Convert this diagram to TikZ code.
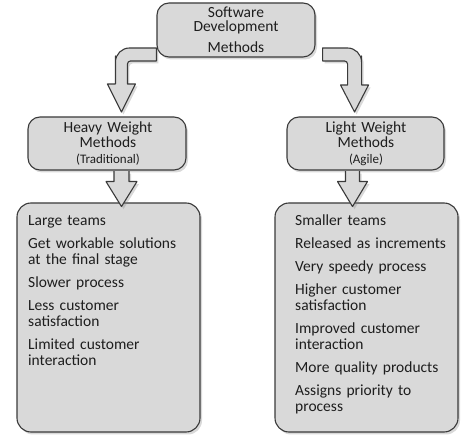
\documentclass[tikz,border=0pt]{standalone}
\usepackage{fontspec}
\setmainfont{Carlito}
\usetikzlibrary{calc,shadows}
\definecolor{boxfill}{HTML}{D9D9D9}
\definecolor{boxline}{HTML}{3A3A3A}
\definecolor{txt}{HTML}{1E1E1E}
\begin{document}
\begin{tikzpicture}[x=1pt,y=-1pt,
  shad/.style={drop shadow={shadow xshift=2pt,shadow yshift=-2.5pt,opacity=0.3}},
  box/.style={draw=boxline, line width=1.1pt, fill=boxfill, rounded corners=12pt, inner sep=0pt, shad},
  head/.style={text=txt, font=\fontsize{15.5}{15}\selectfont, text width=160pt, align=center, inner sep=0pt, anchor=base},
  list/.style={text=txt, font=\fontsize{15.5}{16}\selectfont, text width=175pt, align=left, inner sep=0pt, anchor=base west},
  blk/.style={draw=boxline, line width=1.1pt, fill=boxfill, line join=round, shad}]
\useasboundingbox (0,0) rectangle (474,443);
% boxes
\node[box, minimum width=183pt, minimum height=229pt, rounded corners=14pt] (heavylist) at (108.5,317.5) {};
\node[box, minimum width=183pt, minimum height=229pt, rounded corners=14pt] (lightlist) at (366.5,317.5) {};
\node[box, minimum width=158pt, minimum height=54pt] (top) at (236,30) {};
\node[box, minimum width=158pt, minimum height=53pt] (heavy) at (107,143.5) {};
\node[box, minimum width=157pt, minimum height=53pt] (light) at (365.5,143.5) {};
% texts
\node[head, font=\fontsize{15.5}{14}\selectfont] (toptext) at (236,18) {Software\\Development\\[7pt]Methods};
\node[head] (heavytext) at (108,133) {Heavy Weight\\Methods\\[1pt]{\fontsize{13}{15}\selectfont(Traditional)}};
\node[head] (lighttext) at (366,133) {Light Weight\\Methods\\[1pt]{\fontsize{13}{15}\selectfont(Agile)}};
\node[list] (heavyitems) at (28,226) {Large teams\\[7pt]Get workable solutions\\at the final stage\\[7pt]Slower process\\[7pt]Less customer\\satisfaction\\[7pt]Limited customer\\interaction};
\node[list] (lightitems) at (295,226) {Smaller teams\\[7pt]Released as increments\\[7pt]Very speedy process\\[7pt]Higher customer\\satisfaction\\[7pt]Improved customer\\interaction\\[7pt]More quality products\\[7pt]Assigns priority to\\process};
% curved block arrows
\coordinate (la) at ($(top.west)+(0,18)$);
\filldraw[blk] (la) -- ++(-7,0) [rounded corners=14pt]-- ++(-34,0) -- ++(0,22) [sharp corners]-- ++(0,14) -- ++(-8,0) -- ++(14,28) -- ++(14,-28) -- ++(-8,0) -- ++(0,-10) [rounded corners=3pt]-- ++(0,-13) -- ++(12,0) [sharp corners]-- ++(17,0) -- cycle;
\coordinate (rb) at ($(top.east)+(7,18)$);
\filldraw[blk] (rb) -- ++(7,0) [rounded corners=14pt]-- ++(32,0) -- ++(0,22) [sharp corners]-- ++(0,15) -- ++(7,0) -- ++(-14,27) -- ++(-14,-27) -- ++(7,0) -- ++(0,-10) [rounded corners=3pt]-- ++(0,-14) -- ++(-12,0) [sharp corners]-- ++(-13,0) -- cycle;
% straight block arrows
\filldraw[blk] ($(heavy.south)+(7,0.6)$) -- ++(0,10.4) -- ++(-8,0) -- ++(15.5,25) -- ++(15.5,-25) -- ++(-8,0) -- ++(0,-10.4);
\filldraw[blk] ($(light.south)+(-20,0.6)$) -- ++(0,10.4) -- ++(-8,0) -- ++(15,25) -- ++(15,-25) -- ++(-8,0) -- ++(0,-10.4);
\end{tikzpicture}
\end{document}
